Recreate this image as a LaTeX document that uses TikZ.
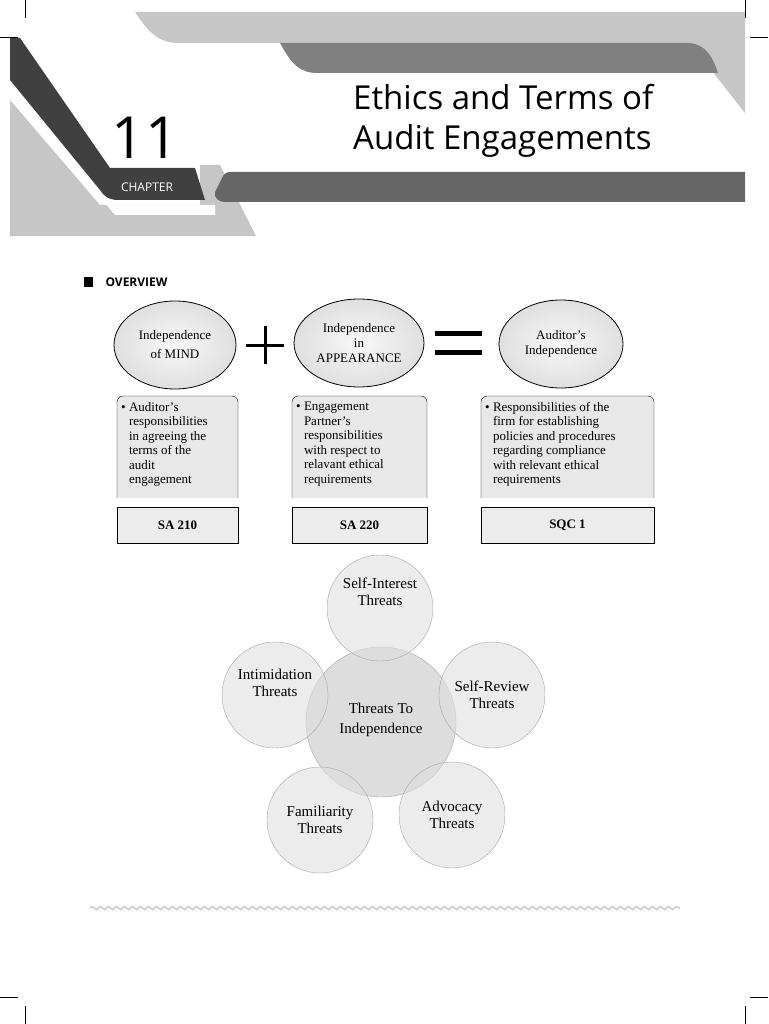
\documentclass[tikz,border=0pt]{standalone}
\usepackage{fontspec}
\setmainfont{Liberation Serif}
\newfontfamily\hd{Open Sans}
\usetikzlibrary{shapes.geometric,decorations.pathmorphing}
\begin{document}
\begin{tikzpicture}[x=1pt,y=-1pt,
  ell/.style={ellipse,draw,thick,minimum width=122pt,minimum height=88pt,inner color=gray!5,outer color=gray!25,align=center,font=\fontsize{13}{15}\selectfont},
  bx/.style={draw,fill=gray!18,rounded corners=6pt},
  sa/.style={draw,fill=gray!15,minimum height=36pt,font=\bfseries\fontsize{13}{15}\selectfont},
  btxt/.style={anchor=north west,align=left,font=\fontsize{13}{14.5}\selectfont,inner sep=0pt},
  thr/.style={circle,draw=gray!70,minimum size=106pt,fill=gray!25,fill opacity=0.6,text opacity=1,align=center,font=\fontsize{15}{17}\selectfont,inner sep=0pt},
  crop/.style={line width=0.8pt}]
\useasboundingbox (0,0) rectangle (768,1024);
% header
\fill[gray!45] (135,12) -- (745,12) -- (745,113) -- (690,43) -- (180,43) .. controls (160,43) and (150,35) .. (135,12) -- cycle;
\fill[gray!75!black!80] (280,43) -- (690,43) .. controls (705,45) and (712,55) .. (718,73) -- (318,73) .. controls (300,73) and (292,65) .. (280,43) -- cycle;
\fill[gray!45] (10,100) -- (100,205) -- (200,205) -- (200,165) -- (220,165) -- (256,236) -- (10,236) -- cycle;
\fill[white] (10,88) -- (115,215) -- (215,215) -- (215,205) -- (105,205) -- (10,92) -- cycle;
\fill[black!75] (10,38) -- (20,38) -- (110,168) -- (195,168) -- (205,200) -- (118,200) .. controls (108,200) and (103,195) .. (100,190) -- (10,80) -- cycle;
\fill[black!60] (230,172) -- (745,172) -- (745,202) -- (226,202) .. controls (218,202) and (214,198) .. (215,192) -- (222,178) .. controls (224,174) and (226,172) .. (230,172) -- cycle;
\node[font=\hd\fontsize{58}{58}\selectfont] (num) at (145,138) {11};
\node[font=\hd\fontsize{12}{12}\selectfont,white,text=white] (chap) at (147,187) {CHAPTER};
\node[font=\hd\fontsize{33}{40}\selectfont,align=left,anchor=north west,inner sep=0pt] (title) at (353,84) {Ethics and Terms of\\Audit Engagements};
% crop marks
\draw[crop] (25,0) -- (25,18) (0,37) -- (18,37) (745,0) -- (745,18) (750,37) -- (768,37)
  (25,1006) -- (25,1024) (0,997) -- (18,997) (745,1006) -- (745,1024) (750,997) -- (768,997);
% overview
\fill (84,277) rectangle (93,287);
\node[font=\hd\bfseries\fontsize{12}{12}\selectfont,anchor=west] (ov) at (102,282) {OVERVIEW};
\node[ell] (e1) at (175,345) {Independence\\[4pt]of MIND};
\node[ell,minimum width=124pt] (e2) at (359,343) {Independence\\in\\APPEARANCE};
\node[ell,minimum width=124pt] (e3) at (561,344) {Auditor's\\Independence};
\draw[line width=3pt] (246,345) -- (284,345) (265,326) -- (265,364);
\draw[line width=5pt] (435,333) -- (482,333) (435,352) -- (482,352);
\draw[bx] (117,498) -- (117,396) -- (238,396) -- (238,498);
\draw[bx] (292,498) -- (292,396) -- (427,396) -- (427,498);
\draw[bx] (481,498) -- (481,396) -- (654,396) -- (654,498);
\node[btxt] (t1) at (121,402) {• Auditor's\\\phantom{• }responsibilities\\\phantom{• }in agreeing the\\\phantom{• }terms of the\\\phantom{• }audit\\\phantom{• }engagement};
\node[btxt] (t2) at (296,402) {• Engagement\\\phantom{• }Partner's\\\phantom{• }responsibilities\\\phantom{• }with respect to\\\phantom{• }relavant ethical\\\phantom{• }requirements};
\node[btxt] (t3) at (485,402) {• Responsibilities of the\\\phantom{• }firm for establishing\\\phantom{• }policies and procedures\\\phantom{• }regarding compliance\\\phantom{• }with relevant ethical\\\phantom{• }requirements};
\node[sa,minimum width=121pt] (s1) at (177.5,525) {SA 210};
\node[sa,minimum width=135pt] (s2) at (359.5,525) {SA 220};
\node[sa,minimum width=173pt] (s3) at (567.5,525) {SQC 1};
% threats
\node[thr,minimum size=150pt,fill=gray!45] (c) at (381,722) {};
\node[thr] (a) at (380,608) {Self-Interest\\Threats\\[16pt]};
\node[thr] (b) at (492,695) {\\[-6pt]Self-Review\\Threats};
\node[thr] (d) at (452,815) {Advocacy\\Threats};
\node[thr] (f) at (320,820) {Familiarity\\Threats};
\node[thr] (i) at (275,695) {Intimidation\\Threats\\[8pt]};
\node[align=center,font=\fontsize{15}{20}\selectfont] (ct) at (381,720) {Threats To\\Independence};
\draw[gray!40,line width=1.5pt,decorate,decoration={snake,amplitude=1.5pt,segment length=8pt}] (90,908) -- (680,908);
\end{tikzpicture}
\end{document}
